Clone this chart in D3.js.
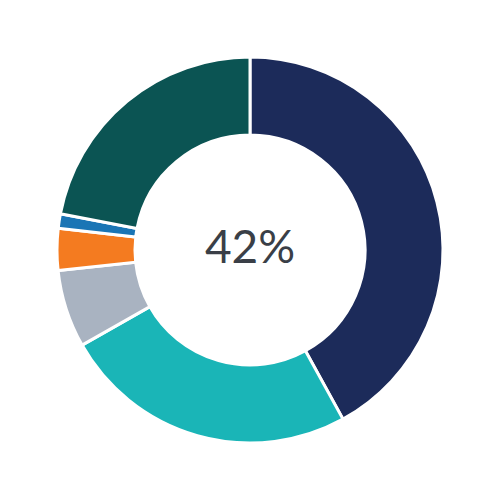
<!DOCTYPE html>
<html>
<head>
<meta charset="utf-8">
<script src="https://cdn.jsdelivr.net/npm/d3@7"></script>
<style>
  html, body { margin: 0; padding: 0; background: #fff; }
</style>
</head>
<body>
<div id="chart"></div>
<script>
// Data
const categories = ["A", "B", "C", "D", "E", "F"];
const values = [42, 24.8, 6.5, 3.5, 1.2, 22];
const colors = ["#1c2b5a", "#1ab5b7", "#a9b3c1", "#f47b20", "#1a75b5", "#0b5453"];
const centerLabel = "42%";

const width = 500, height = 500;
const outerR = 193, innerR = 115;

const svg = d3.select("#chart")
    .append("svg")
    .attr("width", width)
    .attr("height", height)
    .append("g")
    .attr("transform", `translate(${width / 2},${height / 2})`);

const pie = d3.pie().sort(null).value(d => d.v);
const arc = d3.arc().innerRadius(innerR).outerRadius(outerR);

const data = categories.map((c, i) => ({ c, v: values[i], color: colors[i] }));

svg.selectAll("path")
    .data(pie(data))
    .join("path")
    .attr("d", arc)
    .attr("fill", d => d.data.color)
    .attr("stroke", "#fff")
    .attr("stroke-width", 3);

// Center label
svg.append("text")
    .attr("text-anchor", "middle")
    .attr("y", -3)
    .attr("dy", "0.35em")
    .style("font-family", "Lato, 'Open Sans', sans-serif")
    .style("font-weight", 400)
    .style("font-size", "46px")
    .style("fill", "#3a3f47")
    .text(centerLabel);
</script>
</body>
</html>
